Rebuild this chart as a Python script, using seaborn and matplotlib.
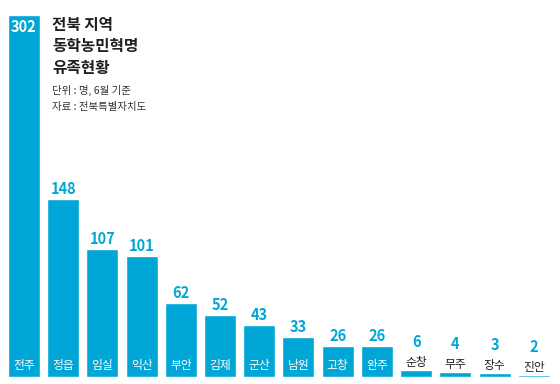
import matplotlib
matplotlib.use('Agg')
import matplotlib.pyplot as plt
import seaborn as sns

# 데이터
regions = ['전주', '정읍', '임실', '익산', '부안', '김제', '군산', '남원', '고창', '완주', '순창', '무주', '장수', '진안']
counts = [302, 148, 107, 101, 62, 52, 43, 33, 26, 26, 6, 4, 3, 2]
title = '전북 지역\n동학농민혁명\n유족현황'
note = '단위 : 명, 6월 기준\n자료 : 전북특별자치도'

BLUE = '#00a6d6'
DARK = '#231f20'

sns.set_style('white')
plt.rcParams['font.family'] = ['Noto Sans CJK KR', 'DejaVu Sans']
num_font = ['Liberation Sans Narrow', 'Noto Sans CJK KR']

fig = plt.figure(figsize=(5.6, 3.84), dpi=100)
ax = fig.add_axes([0, 0, 1, 1])
sns.barplot(x=regions, y=counts, color=BLUE, saturation=1, width=0.816, ax=ax)
ax.set_xlim(-0.612, 13.67)
ax.set_ylim(-5.83, 314.2)
ax.axis('off')

px = 1 / 1.2  # 데이터 단위 당 1픽셀
for i, (name, v) in enumerate(zip(regions, counts)):
    if i == 0:
        # 가장 큰 막대는 값이 막대 안쪽에
        ax.text(i, v - 4 * px, str(v), ha='center', va='top', color='white',
                fontsize=10.5, weight='bold', family=num_font)
        ax.text(i, 12 * px, name, ha='center', va='center', color='white',
                fontsize=8.5, weight='medium')
    elif v >= 20:
        ax.text(i, v + 2 * px, str(v), ha='center', va='bottom', color=BLUE,
                fontsize=10.5, weight='bold', family=num_font)
        ax.text(i, 12 * px, name, ha='center', va='center', color='white',
                fontsize=8.5, weight='medium')
    else:
        # 짧은 막대는 지역명을 막대 위에
        ax.text(i, v + 1 * px, name, ha='center', va='bottom', color=DARK,
                fontsize=8.5, weight='medium')
        ax.text(i, v + 20 * px, str(v), ha='center', va='bottom', color=BLUE,
                fontsize=10.5, weight='bold', family=num_font)

fig.text(52 / 560, 1 - 17 / 384, title, ha='left', va='top', color=DARK,
         fontsize=11.3, weight='heavy', linespacing=1.42)
fig.text(52 / 560, 1 - 85 / 384, note, ha='left', va='top', color='#333333',
         fontsize=7.5, linespacing=1.7)

fig.savefig('out.png', dpi=100)
